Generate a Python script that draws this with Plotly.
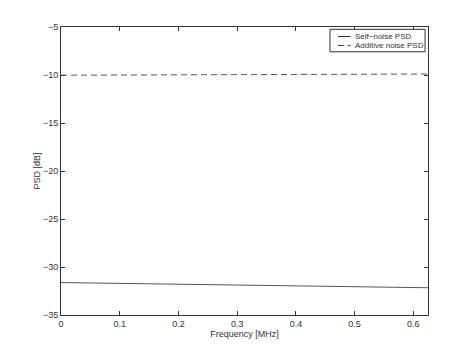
import plotly.graph_objects as go

freq = [0, 0.05, 0.1, 0.15, 0.2, 0.25, 0.3, 0.35, 0.4, 0.45, 0.5, 0.55, 0.6, 0.625]
self_noise = [-31.62, -31.66, -31.72, -31.78, -31.80, -31.80, -31.84, -31.90, -31.95, -32.00, -32.05, -32.10, -32.14, -32.16]
additive_noise = [-10.02, -10.01, -10.00, -10.00, -9.99, -9.99, -9.98, -9.98, -9.97, -9.97, -9.96, -9.96, -9.95, -9.90]
names = ["Self\u2212noise PSD", "Additive noise PSD"]
dashes = ["solid", "6px,4px"]

xticks = [0, 0.1, 0.2, 0.3, 0.4, 0.5, 0.6]
yticks = [-35, -30, -25, -20, -15, -10, -5]

col = "#333333"
lcol = "#555555"
font = "Liberation Sans, Arial"
fig = go.Figure()
for yv, nm, ds in zip([self_noise, additive_noise], names, dashes):
    fig.add_trace(go.Scatter(x=freq, y=yv, mode="lines", name=nm,
                             line=dict(color=lcol, width=1, dash=ds)))

axis_common = dict(showgrid=False, zeroline=False, showline=True, linecolor=col, linewidth=1,
                   mirror="ticks", ticks="inside", ticklen=4, tickcolor=col,
                   tickfont=dict(family=font, size=9, color=col))
fig.update_xaxes(range=[0, 0.625], tickvals=xticks, ticktext=[f"{v:g}" for v in xticks],
                 title=dict(text="Frequency [MHz]", font=dict(family=font, size=9, color=col), standoff=2),
                 **axis_common)
fig.update_yaxes(range=[-35, -5], tickvals=yticks, ticktext=["\u2212" + str(abs(v)) for v in yticks],
                 title=dict(text="PSD [dB]", font=dict(family=font, size=9, color=col), standoff=0),
                 ticklabelstandoff=0, **axis_common)

# manual compact legend
fig.add_shape(type="rect", xref="paper", yref="paper", x0=0.733, x1=0.992, y0=0.914, y1=0.992,
              line=dict(color=col, width=1), fillcolor="white", layer="above")
for i, (nm, ds) in enumerate(zip(names, dashes)):
    yy = [0.967, 0.936][i]
    fig.add_shape(type="line", xref="paper", yref="paper", x0=0.755, x1=0.789, y0=yy, y1=yy,
                  line=dict(color=col, width=1, dash=ds), layer="above")
    fig.add_annotation(xref="paper", yref="paper", x=0.795, y=yy, xanchor="left", yanchor="middle",
                       text=nm, showarrow=False, font=dict(family=font, size=8, color=col))

fig.update_layout(width=474, height=355, margin=dict(l=61, r=46, t=27, b=40),
                  plot_bgcolor="white", paper_bgcolor="white", showlegend=False)
fig.write_html("out.html")
